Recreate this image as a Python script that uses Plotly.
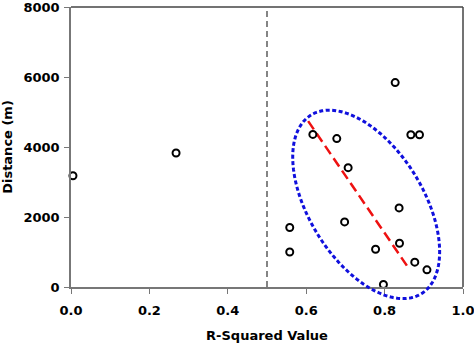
import numpy as np
import plotly.graph_objects as go

# ---- data ----
r2 = [0.005, 0.268, 0.827, 0.617, 0.678, 0.867, 0.889, 0.707, 0.837,
      0.558, 0.698, 0.558, 0.777, 0.838, 0.877, 0.908, 0.797]
dist = [3180, 3830, 5840, 4360, 4240, 4350, 4350, 3410, 2260,
        1700, 1860, 1000, 1080, 1250, 710, 490, 70]
trend_x = [0.605, 0.863]
trend_y = [4740, 510]
threshold_x = 0.5
x_ticks = [0.0, 0.2, 0.4, 0.6, 0.8, 1.0]
x_tick_labels = ["0.0", "0.2", "0.4", "0.6", "0.8", "1.0"]
y_ticks = [0, 2000, 4000, 6000, 8000]
y_tick_labels = ["0", "2000", "4000", "6000", "8000"]
X_RANGE = [0, 1]
Y_RANGE = [0, 8000]

# ellipse (centre in data units, semi-axes in screen pixels, tilt in degrees)
ell_cx, ell_cy = 0.753, 2360
ell_a_px, ell_b_px, ell_tilt = 105, 57, -58.3

W, H = 474, 345
ML, MR, MT, MB = 71, 11, 7, 58
PW, PH = W - ML - MR, H - MT - MB

FONT = dict(family="DejaVu Sans", size=13, color="black", weight="bold")

fig = go.Figure()

fig.add_trace(go.Scatter(
    x=trend_x, y=trend_y, mode="lines",
    line=dict(color="#ee1111", width=2.5, dash="10px,5px"),
    hoverinfo="skip", showlegend=False))

fig.add_trace(go.Scatter(
    x=r2, y=dist, mode="markers",
    marker=dict(symbol="circle-open", size=7, color="black",
                line=dict(width=2, color="black")),
    showlegend=False, cliponaxis=False))

# ellipse in paper coordinates (not clipped by plot area)
t = np.linspace(0, 2 * np.pi, 200)
th = np.deg2rad(ell_tilt)
dx = ell_a_px * np.cos(t) * np.cos(th) - ell_b_px * np.sin(t) * np.sin(th)
dy = ell_a_px * np.cos(t) * np.sin(th) + ell_b_px * np.sin(t) * np.cos(th)
cxp = (ell_cx - X_RANGE[0]) / (X_RANGE[1] - X_RANGE[0])
cyp = (ell_cy - Y_RANGE[0]) / (Y_RANGE[1] - Y_RANGE[0])
px = cxp + dx / PW
py = cyp + dy / PH
path = "M " + " L ".join(f"{a:.5f},{b:.5f}" for a, b in zip(px, py)) + " Z"
fig.add_shape(type="path", path=path, xref="paper", yref="paper",
              line=dict(color="#1010dd", width=3, dash="4px,2.5px"))

# threshold line
fig.add_shape(type="line", x0=threshold_x, x1=threshold_x, y0=Y_RANGE[0], y1=Y_RANGE[1],
              xref="x", yref="y", line=dict(color="#444444", width=1.3, dash="6px,4px"))

# top and right frame
fig.add_shape(type="line", x0=0, x1=1, y0=1, y1=1, xref="paper", yref="paper",
              line=dict(color="#444444", width=1.5))
fig.add_shape(type="line", x0=1, x1=1, y0=0, y1=1, xref="paper", yref="paper",
              line=dict(color="#444444", width=1.5))

fig.update_layout(
    width=W, height=H,
    margin=dict(l=ML, r=MR, t=MT, b=MB, autoexpand=False),
    plot_bgcolor="white", paper_bgcolor="white",
    font=FONT,
    xaxis=dict(range=X_RANGE, tickvals=x_ticks, ticktext=x_tick_labels,
               showgrid=False, zeroline=False, showline=True, linecolor="#777777",
               linewidth=1.5, ticks="outside", ticklen=5, tickcolor="#777777",
               tickfont=FONT, ticklabelstandoff=6, ticklabeloverflow="allow",
               automargin=False,
               title=dict(text="R-Squared Value", font=FONT, standoff=14)),
    yaxis=dict(range=Y_RANGE, tickvals=y_ticks, ticktext=y_tick_labels,
               showgrid=False, zeroline=False, showline=True, linecolor="#777777",
               linewidth=1.5, ticks="outside", ticklen=5, tickcolor="#777777",
               tickfont=FONT, ticklabelstandoff=2, ticklabeloverflow="allow",
               automargin=False,
               title=dict(text="Distance (m)", font=FONT, standoff=8)),
)

fig.write_html("out.html")
